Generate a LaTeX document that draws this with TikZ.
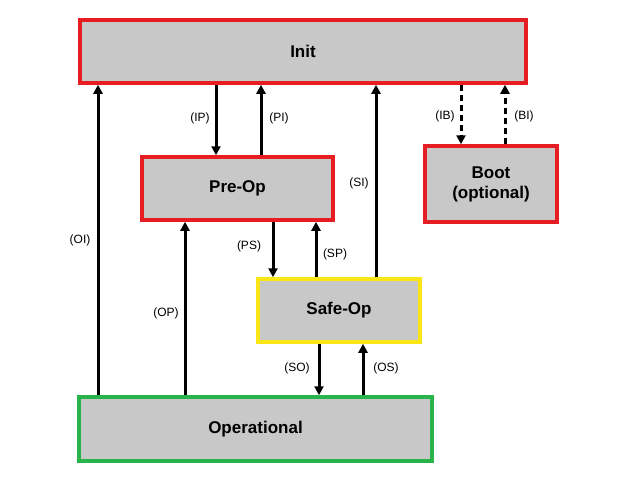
\documentclass[tikz,border=0pt]{standalone}
\usepackage{fontspec}
\setmainfont{Liberation Sans}
\usetikzlibrary{arrows.meta}
\definecolor{boxgray}{RGB}{200,200,200}
\definecolor{bred}{RGB}{230,30,36}
\definecolor{byel}{RGB}{250,230,20}
\definecolor{bgrn}{RGB}{40,180,75}
\begin{document}
\begin{tikzpicture}[x=1pt,y=-1pt,
  st/.style={draw=#1,line width=3.5pt,fill=boxgray,font=\fontsize{17}{20}\selectfont\bfseries,align=center,inner sep=0pt},
  ar/.style={line width=3pt,-{Triangle[length=9pt,width=9pt]}},
  da/.style={ar,dash pattern=on 6pt off 4pt},
  lb/.style={font=\fontsize{12}{14}\selectfont}]
\useasboundingbox (0,0) rectangle (640,480);
\node[st=bred,minimum width=446pt,minimum height=63pt] (init) at (303,51.5) {Init};
\node[st=bred,minimum width=191pt,minimum height=63pt] (preop) at (237.5,188.5) {Pre-Op};
\node[st=bred,minimum width=132pt,minimum height=76pt] (boot) at (491,184) {Boot\\(optional)};
\node[st=byel,minimum width=162pt,minimum height=63pt] (safeop) at (339,310.5) {Safe-Op};
\node[st=bgrn,minimum width=353pt,minimum height=64pt] (op) at (255.5,429) {Operational};
\draw[ar] (op.north -| 98,0) -- (init.south -| 98,0);
\draw[ar] (init.south -| 216,0) -- (preop.north -| 216,0);
\draw[ar] (preop.north -| 261,0) -- (init.south -| 261,0);
\draw[ar] (safeop.north -| 376,0) -- (init.south -| 376,0);
\draw[da] (init.south -| 461,0) -- (boot.north -| 461,0);
\draw[da] (boot.north -| 505,0) -- (init.south -| 505,0);
\draw[ar] (op.north -| 185,0) -- (preop.south -| 185,0);
\draw[ar] (preop.south -| 273,0) -- (safeop.north -| 273,0);
\draw[ar] (safeop.north -| 316,0) -- (preop.south -| 316,0);
\draw[ar] (safeop.south -| 319,0) -- (op.north -| 319,0);
\draw[ar] (op.north -| 363,0) -- (safeop.south -| 363,0);
\node[lb] (l1) at (80,240) {(OI)};
\node[lb] (l2) at (200,118) {(IP)};
\node[lb] (l3) at (279,118) {(PI)};
\node[lb] (l4) at (359,183) {(SI)};
\node[lb] (l5) at (445,116) {(IB)};
\node[lb] (l6) at (524,116) {(BI)};
\node[lb] (l7) at (166,313) {(OP)};
\node[lb] (l8) at (249,246) {(PS)};
\node[lb] (l9) at (335,254) {(SP)};
\node[lb] (l10) at (297,368) {(SO)};
\node[lb] (l11) at (386,368) {(OS)};
\end{tikzpicture}
\end{document}
